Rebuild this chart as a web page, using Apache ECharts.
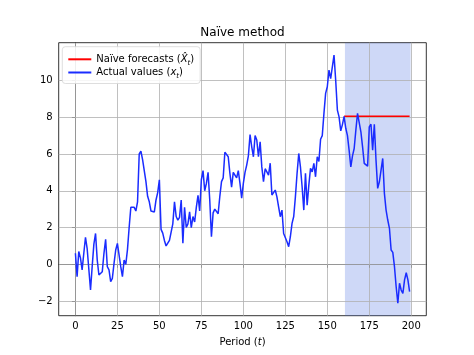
<!DOCTYPE html>
<html><head><meta charset="utf-8">
<script src="https://cdn.jsdelivr.net/npm/echarts@6/dist/echarts.min.js"></script>
<style>html,body{margin:0;padding:0;background:#fff}#c{width:474px;height:355px}</style>
</head><body><div id="c"></div>
<script>
const actual = [
 0.6,-0.67,0.7,0.35,-0.3,0.6,1.47,0.85,0.75,-1.4,
 -0.1,1.1,1.68,0.23,-0.58,-0.67,-0.4,0.6,1.36,-0.13,
 -0.3,-0.94,-0.76,0.05,0.78,1.14,1.23,-0.13,-0.67,0.23,
 0.0,0.8,2.0,3.1,3.15,3.1,2.9,3.4,6.0,6.15,
 5.7,5.6,4.5,3.7,3.4,2.9,2.8,2.85,3.5,3.9,
 4.6,1.9,1.7,1.3,1.0,1.15,1.3,1.4,2.2,3.4,
 2.6,2.4,2.55,3.5,1.15,3.1,2.0,2.2,2.85,2.0,
 2.6,2.3,3.1,3.75,2.9,4.6,5.1,4.0,4.4,5.0,
 3.5,1.5,2.8,3.0,3.1,2.75,3.7,4.5,4.7,6.1,
 6.2,5.85,4.95,4.2,5.0,4.9,4.7,5.1,4.4,3.6,
 4.4,5.0,5.4,5.9,7.06,6.39,5.85,7.0,6.76,5.85,
 6.66,5.3,4.49,5.2,5.03,4.85,5.5,3.77,3.86,4.04,
 3.67,3.13,2.59,2.95,1.68,1.77,1.23,0.96,1.5,2.23,
 2.6,3.67,4.95,6.03,5.3,4.22,2.95,4.95,3.22,4.31,
 5.22,5.03,5.49,4.76,5.85,5.6,6.8,7.0,8.21,9.3,
 9.66,10.56,10.1,10.0,11.38,10.0,8.39,8.02,7.26,7.6,
 8.05,7.4,7.0,6.2,5.3,5.9,6.3,7.3,8.21,8.12,
 7.21,6.39,5.49,5.58,5.34,7.48,7.62,6.21,7.62,5.67,
 4.13,4.49,4.49,5.76,3.86,2.95,2.41,1.96,0.78,0.65,
 -0.13,-1.22,-2.12,-1.03,-1.4,-1.58,-0.85,-0.46,-0.85,-1.49
];
const forecastStart = 160;
const forecastEnd = 199;
const shadeRange = [160.5, 199.6];
const xTicks = [0, 25, 50, 75, 100, 125, 150, 175, 200];
const yTicks = [-2, 0, 2, 4, 6, 8, 10];
const titleText = 'Naïve method';
const seriesNames = ['Naïve forecasts', 'Actual values'];

const actualData = actual.map((v, i) => [i, v]);
const forecastValue = actual[forecastStart];
const forecastData = [];
for (let t = forecastStart; t <= forecastEnd; t++) forecastData.push([t, forecastValue]);

const lastT = actual.length - 1;
const xPad = 0.05 * lastT;
const yMinD = Math.min(...actual), yMaxD = Math.max(...actual);
const yPad = 0.05 * (yMaxD - yMinD);

const FONT = 'DejaVu Sans';
const gridColor = '#b0b0b0';

const gridLines = xTicks.map(v => ({ xAxis: v })).concat(yTicks.map(v => ({ yAxis: v })));

const chart = echarts.init(document.getElementById('c'), null, { renderer: 'canvas' });
chart.setOption({
  animation: false,
  backgroundColor: '#fff',
  textStyle: { fontFamily: FONT },
  graphic: [{
    type: 'text', x: 242.5, y: 32.5,
    style: { text: titleText, font: '12px "DejaVu Sans"', fill: '#000', textAlign: 'center', textVerticalAlign: 'middle' }
  }],
  grid: { left: 58.7, right: 47.7, top: 42.7, bottom: 39.3, show: true, borderColor: '#000', borderWidth: 0.8, backgroundColor: 'transparent' },
  legend: {
    data: seriesNames,
    orient: 'vertical',
    left: 62.3, top: 46.7,
    itemWidth: 23, itemHeight: 14, itemGap: 0.6,
    padding: [7, 6, 4, 5],
    borderColor: '#d5d5d5', borderWidth: 0.8, borderRadius: 3,
    backgroundColor: 'rgba(255,255,255,0.85)',
    itemStyle: { color: 'transparent', borderColor: 'transparent', borderWidth: 0, opacity: 0 },
    textStyle: {
      fontFamily: FONT, fontSize: 10, color: '#000',
      rich: {
        n: { fontFamily: FONT, fontSize: 10, color: '#000', lineHeight: 14, verticalAlign: 'middle' },
        i: { fontFamily: FONT, fontSize: 10, fontStyle: 'italic', color: '#000', lineHeight: 14, verticalAlign: 'middle' },
        s: { fontFamily: FONT, fontSize: 7, fontStyle: 'italic', color: '#000', lineHeight: 8, verticalAlign: 'bottom' }
      }
    },
    formatter: name => name === seriesNames[0]
      ? '{n|' + name + ' (}{i|X\u0302}{s|t}{n|)}'
      : '{n|' + name + ' (}{i|x}{s|t}{n|)}'
  },
  xAxis: {
    type: 'value', min: -xPad, max: lastT + xPad,
    name: '{n|Period (}{i|t}{n|)}', nameLocation: 'middle', nameGap: 22,
    nameTextStyle: {
      rich: {
        n: { fontFamily: FONT, fontSize: 10, color: '#000' },
        i: { fontFamily: FONT, fontSize: 10, fontStyle: 'italic', color: '#000' }
      }
    },
    axisLine: { show: true, lineStyle: { color: '#000', width: 0.8 } },
    axisTick: { show: true, inside: false, length: 3.5, customValues: xTicks, lineStyle: { color: '#000', width: 0.8 } },
    axisLabel: { customValues: xTicks, fontFamily: FONT, fontSize: 10, color: '#000', margin: 6 },
    splitLine: { show: false }
  },
  yAxis: {
    type: 'value', min: yMinD - yPad, max: yMaxD + yPad,
    axisLine: { show: true, lineStyle: { color: '#000', width: 0.8 } },
    axisTick: { show: true, inside: false, length: 3.5, customValues: yTicks, lineStyle: { color: '#000', width: 0.8 } },
    axisLabel: { customValues: yTicks, fontFamily: FONT, fontSize: 10, color: '#000', margin: 6,
      formatter: v => String(v).replace('-', '\u2212') },
    splitLine: { show: false }
  },
  series: [
    {
      name: seriesNames[0], type: 'line', data: forecastData, z: 3,
      showSymbol: false, symbol: 'none',
      lineStyle: { color: '#ff0000', width: 1.5 }, itemStyle: { color: '#ff0000' },
      markArea: {
        silent: true, z: 1,
        itemStyle: { color: 'rgba(65,105,225,0.26)' },
        data: [[{ xAxis: shadeRange[0] }, { xAxis: shadeRange[1] }]]
      },
      markLine: {
        silent: true, z: 2, symbol: ['none', 'none'],
        label: { show: false },
        lineStyle: { color: gridColor, width: 0.8, type: 'solid' },
        emphasis: { disabled: true },
        data: gridLines
      }
    },
    {
      name: seriesNames[1], type: 'line', data: actualData, z: 4,
      showSymbol: false, symbol: 'none',
      lineStyle: { color: '#1a2cff', width: 1.5 }, itemStyle: { color: '#1a2cff' }
    }
  ]
});
</script></body></html>
